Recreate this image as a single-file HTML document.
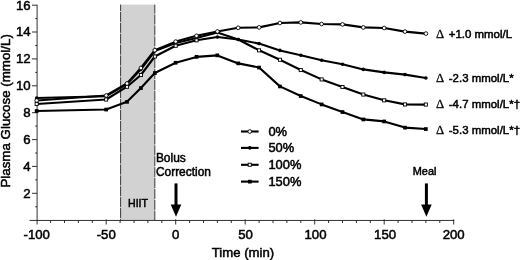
<!DOCTYPE html>
<html><head><meta charset="utf-8"><title>Plasma Glucose</title>
<style>
html,body{margin:0;padding:0;background:#fff;}
body{width:520px;height:260px;overflow:hidden;}
svg{display:block;}
text{font-family:"Liberation Sans",sans-serif;fill:#000;stroke:#000;stroke-width:0.5px;}
.tk{font-size:13.2px;}
.an{font-size:11.2px;}
.lg{font-size:12.9px;}
</style></head><body>
<svg width="520" height="260" viewBox="0 0 520 260">
<rect x="0" y="0" width="520" height="260" fill="#fff"/>

<rect x="120.5" y="4.6" width="34.3" height="215.4" fill="#d2d2d2"/>
<line x1="120.6" y1="4.6" x2="120.6" y2="220" stroke="#3a3a3a" stroke-width="1" stroke-dasharray="10 0.9" stroke-dashoffset="3.6"/>
<line x1="154.8" y1="4.6" x2="154.8" y2="220" stroke="#3a3a3a" stroke-width="1" stroke-dasharray="10 0.9" stroke-dashoffset="1"/>
<g stroke="#262626" stroke-width="0.95" fill="none">
<line x1="29.6" y1="220.45" x2="454.2" y2="220.45"/>
<line x1="37.1" y1="4.7" x2="37.1" y2="224.5"/>
<line x1="35.2" y1="206.8" x2="37.1" y2="206.8"/>
<line x1="32" y1="193.3" x2="37.1" y2="193.3"/>
<line x1="35.2" y1="179.9" x2="37.1" y2="179.9"/>
<line x1="32" y1="166.4" x2="37.1" y2="166.4"/>
<line x1="35.2" y1="153.0" x2="37.1" y2="153.0"/>
<line x1="32" y1="139.6" x2="37.1" y2="139.6"/>
<line x1="35.2" y1="126.1" x2="37.1" y2="126.1"/>
<line x1="32" y1="112.7" x2="37.1" y2="112.7"/>
<line x1="35.2" y1="99.2" x2="37.1" y2="99.2"/>
<line x1="32" y1="85.8" x2="37.1" y2="85.8"/>
<line x1="35.2" y1="72.4" x2="37.1" y2="72.4"/>
<line x1="32" y1="58.9" x2="37.1" y2="58.9"/>
<line x1="35.2" y1="45.5" x2="37.1" y2="45.5"/>
<line x1="32" y1="32.0" x2="37.1" y2="32.0"/>
<line x1="35.2" y1="18.6" x2="37.1" y2="18.6"/>
<line x1="32" y1="5.2" x2="37.1" y2="5.2"/>
<line x1="50.6" y1="220.2" x2="50.6" y2="223"/>
<line x1="64.5" y1="220.2" x2="64.5" y2="223"/>
<line x1="78.4" y1="220.2" x2="78.4" y2="223"/>
<line x1="92.3" y1="220.2" x2="92.3" y2="223"/>
<line x1="106.2" y1="219.39999999999998" x2="106.2" y2="224.5"/>
<line x1="120.1" y1="220.2" x2="120.1" y2="223"/>
<line x1="134.0" y1="220.2" x2="134.0" y2="223"/>
<line x1="147.9" y1="220.2" x2="147.9" y2="223"/>
<line x1="161.8" y1="220.2" x2="161.8" y2="223"/>
<line x1="175.7" y1="219.39999999999998" x2="175.7" y2="224.5"/>
<line x1="189.6" y1="220.2" x2="189.6" y2="223"/>
<line x1="203.5" y1="220.2" x2="203.5" y2="223"/>
<line x1="217.4" y1="220.2" x2="217.4" y2="223"/>
<line x1="231.3" y1="220.2" x2="231.3" y2="223"/>
<line x1="245.2" y1="219.39999999999998" x2="245.2" y2="224.5"/>
<line x1="259.1" y1="220.2" x2="259.1" y2="223"/>
<line x1="273.0" y1="220.2" x2="273.0" y2="223"/>
<line x1="286.9" y1="220.2" x2="286.9" y2="223"/>
<line x1="300.8" y1="220.2" x2="300.8" y2="223"/>
<line x1="314.7" y1="219.39999999999998" x2="314.7" y2="224.5"/>
<line x1="328.6" y1="220.2" x2="328.6" y2="223"/>
<line x1="342.5" y1="220.2" x2="342.5" y2="223"/>
<line x1="356.4" y1="220.2" x2="356.4" y2="223"/>
<line x1="370.3" y1="220.2" x2="370.3" y2="223"/>
<line x1="384.2" y1="219.39999999999998" x2="384.2" y2="224.5"/>
<line x1="398.1" y1="220.2" x2="398.1" y2="223"/>
<line x1="412.0" y1="220.2" x2="412.0" y2="223"/>
<line x1="425.9" y1="220.2" x2="425.9" y2="223"/>
<line x1="439.8" y1="220.2" x2="439.8" y2="223"/>
<line x1="453.7" y1="219.39999999999998" x2="453.7" y2="224.5"/>
</g>
<text class="tk" x="30.6" y="197.7" text-anchor="end">2</text>
<text class="tk" x="30.6" y="170.8" text-anchor="end">4</text>
<text class="tk" x="30.6" y="144.0" text-anchor="end">6</text>
<text class="tk" x="30.6" y="117.1" text-anchor="end">8</text>
<text class="tk" x="30.6" y="90.2" text-anchor="end">10</text>
<text class="tk" x="30.6" y="63.3" text-anchor="end">12</text>
<text class="tk" x="30.6" y="36.4" text-anchor="end">14</text>
<text class="tk" x="30.6" y="9.6" text-anchor="end">16</text>
<text class="tk" x="36.7" y="238.9" text-anchor="middle">-100</text>
<text class="tk" x="106.2" y="238.9" text-anchor="middle">-50</text>
<text class="tk" x="175.7" y="238.9" text-anchor="middle">0</text>
<text class="tk" x="245.6" y="238.9" text-anchor="middle">50</text>
<text class="tk" x="315.5" y="238.9" text-anchor="middle">100</text>
<text class="tk" x="385.1" y="238.9" text-anchor="middle">150</text>
<text class="tk" x="453.7" y="238.9" text-anchor="middle">200</text>
<text class="tk" x="211.8" y="257" style="font-size:13.15px">Time (min)</text>
<text class="tk" transform="translate(10,187.6) rotate(-90)" style="font-size:13.35px">Plasma Glucose (mmol/L)</text>
<polyline points="36.7,111.0 106.2,109.5 127.0,101.8 140.9,88.0 154.8,73.0 175.7,62.8 196.5,56.9 217.4,55.4 238.2,63.4 259.1,67.5 279.9,86.4 300.8,96.0 321.6,104.4 342.5,112.0 363.3,119.4 384.2,121.4 405.0,127.6 425.9,129.0" fill="none" stroke="#000" stroke-width="2.1" stroke-linejoin="round"/>
<rect x="34.8" y="109.2" width="3.7" height="3.7" fill="#000"/>
<rect x="104.3" y="107.7" width="3.7" height="3.7" fill="#000"/>
<rect x="125.2" y="100.0" width="3.7" height="3.7" fill="#000"/>
<rect x="139.1" y="86.2" width="3.7" height="3.7" fill="#000"/>
<rect x="153.0" y="71.2" width="3.7" height="3.7" fill="#000"/>
<rect x="173.8" y="60.9" width="3.7" height="3.7" fill="#000"/>
<rect x="194.7" y="55.0" width="3.7" height="3.7" fill="#000"/>
<rect x="215.5" y="53.5" width="3.7" height="3.7" fill="#000"/>
<rect x="236.4" y="61.5" width="3.7" height="3.7" fill="#000"/>
<rect x="257.2" y="65.7" width="3.7" height="3.7" fill="#000"/>
<rect x="278.1" y="84.6" width="3.7" height="3.7" fill="#000"/>
<rect x="298.9" y="94.2" width="3.7" height="3.7" fill="#000"/>
<rect x="319.8" y="102.6" width="3.7" height="3.7" fill="#000"/>
<rect x="340.6" y="110.2" width="3.7" height="3.7" fill="#000"/>
<rect x="361.5" y="117.6" width="3.7" height="3.7" fill="#000"/>
<rect x="382.3" y="119.6" width="3.7" height="3.7" fill="#000"/>
<rect x="403.2" y="125.8" width="3.7" height="3.7" fill="#000"/>
<rect x="424.0" y="127.2" width="3.7" height="3.7" fill="#000"/>
<polyline points="36.7,98.0 106.2,96.2 127.0,84.0 140.9,69.3 154.8,51.0 175.7,43.1 196.5,38.0 217.4,32.6 238.2,39.5 259.1,43.6 279.9,50.4 300.8,55.2 321.6,60.2 342.5,64.2 363.3,69.4 384.2,72.4 405.0,74.6 425.9,78.0" fill="none" stroke="#000" stroke-width="2.1" stroke-linejoin="round"/>
<circle cx="36.7" cy="98.0" r="1.8" fill="#000"/>
<circle cx="106.2" cy="96.2" r="1.8" fill="#000"/>
<circle cx="127.0" cy="84.0" r="1.8" fill="#000"/>
<circle cx="140.9" cy="69.3" r="1.8" fill="#000"/>
<circle cx="154.8" cy="51.0" r="1.8" fill="#000"/>
<circle cx="175.7" cy="43.1" r="1.8" fill="#000"/>
<circle cx="196.5" cy="38.0" r="1.8" fill="#000"/>
<circle cx="217.4" cy="32.6" r="1.8" fill="#000"/>
<circle cx="238.2" cy="39.5" r="1.8" fill="#000"/>
<circle cx="259.1" cy="43.6" r="1.8" fill="#000"/>
<circle cx="279.9" cy="50.4" r="1.8" fill="#000"/>
<circle cx="300.8" cy="55.2" r="1.8" fill="#000"/>
<circle cx="321.6" cy="60.2" r="1.8" fill="#000"/>
<circle cx="342.5" cy="64.2" r="1.8" fill="#000"/>
<circle cx="363.3" cy="69.4" r="1.8" fill="#000"/>
<circle cx="384.2" cy="72.4" r="1.8" fill="#000"/>
<circle cx="405.0" cy="74.6" r="1.8" fill="#000"/>
<circle cx="425.9" cy="78.0" r="1.8" fill="#000"/>
<polyline points="36.7,104.0 106.2,99.5 127.0,86.7 140.9,75.0 154.8,56.5 175.7,45.8 196.5,40.3 217.4,37.0 238.2,39.5 259.1,50.3 279.9,59.8 300.8,70.0 321.6,79.4 342.5,87.0 363.3,94.5 384.2,100.3 405.0,104.4 425.9,104.6" fill="none" stroke="#000" stroke-width="2.1" stroke-linejoin="round"/>
<rect x="35.1" y="102.5" width="3.1" height="3.1" fill="#fff" stroke="#000" stroke-width="0.9"/>
<rect x="104.6" y="98.0" width="3.1" height="3.1" fill="#fff" stroke="#000" stroke-width="0.9"/>
<rect x="125.5" y="85.2" width="3.1" height="3.1" fill="#fff" stroke="#000" stroke-width="0.9"/>
<rect x="139.4" y="73.5" width="3.1" height="3.1" fill="#fff" stroke="#000" stroke-width="0.9"/>
<rect x="153.3" y="55.0" width="3.1" height="3.1" fill="#fff" stroke="#000" stroke-width="0.9"/>
<rect x="174.1" y="44.2" width="3.1" height="3.1" fill="#fff" stroke="#000" stroke-width="0.9"/>
<rect x="195.0" y="38.8" width="3.1" height="3.1" fill="#fff" stroke="#000" stroke-width="0.9"/>
<circle cx="217.4" cy="37.0" r="1.8" fill="#000"/>
<circle cx="238.2" cy="39.5" r="1.8" fill="#000"/>
<rect x="257.5" y="48.8" width="3.1" height="3.1" fill="#fff" stroke="#000" stroke-width="0.9"/>
<rect x="278.4" y="58.2" width="3.1" height="3.1" fill="#fff" stroke="#000" stroke-width="0.9"/>
<rect x="299.2" y="68.5" width="3.1" height="3.1" fill="#fff" stroke="#000" stroke-width="0.9"/>
<rect x="320.1" y="77.9" width="3.1" height="3.1" fill="#fff" stroke="#000" stroke-width="0.9"/>
<rect x="340.9" y="85.5" width="3.1" height="3.1" fill="#fff" stroke="#000" stroke-width="0.9"/>
<rect x="361.8" y="93.0" width="3.1" height="3.1" fill="#fff" stroke="#000" stroke-width="0.9"/>
<rect x="382.6" y="98.8" width="3.1" height="3.1" fill="#fff" stroke="#000" stroke-width="0.9"/>
<rect x="403.5" y="102.9" width="3.1" height="3.1" fill="#fff" stroke="#000" stroke-width="0.9"/>
<rect x="424.3" y="103.0" width="3.1" height="3.1" fill="#fff" stroke="#000" stroke-width="0.9"/>
<polyline points="36.7,100.5 106.2,95.5 127.0,83.5 140.9,68.0 154.8,50.2 175.7,41.6 196.5,35.8 217.4,31.5 238.2,27.8 259.1,27.4 279.9,23.0 300.8,22.4 321.6,24.0 342.5,24.4 363.3,27.4 384.2,28.0 405.0,31.6 425.9,33.6" fill="none" stroke="#000" stroke-width="2.1" stroke-linejoin="round"/>
<circle cx="36.7" cy="100.5" r="1.85" fill="#fff" stroke="#000" stroke-width="0.9"/>
<circle cx="106.2" cy="95.5" r="1.85" fill="#fff" stroke="#000" stroke-width="0.9"/>
<circle cx="127.0" cy="83.5" r="1.85" fill="#fff" stroke="#000" stroke-width="0.9"/>
<circle cx="140.9" cy="68.0" r="1.85" fill="#fff" stroke="#000" stroke-width="0.9"/>
<circle cx="154.8" cy="50.2" r="1.85" fill="#fff" stroke="#000" stroke-width="0.9"/>
<circle cx="175.7" cy="41.6" r="1.85" fill="#fff" stroke="#000" stroke-width="0.9"/>
<circle cx="196.5" cy="35.8" r="1.85" fill="#fff" stroke="#000" stroke-width="0.9"/>
<circle cx="217.4" cy="31.5" r="1.85" fill="#fff" stroke="#000" stroke-width="0.9"/>
<circle cx="238.2" cy="27.8" r="1.85" fill="#fff" stroke="#000" stroke-width="0.9"/>
<circle cx="259.1" cy="27.4" r="1.85" fill="#fff" stroke="#000" stroke-width="0.9"/>
<circle cx="279.9" cy="23.0" r="1.85" fill="#fff" stroke="#000" stroke-width="0.9"/>
<circle cx="300.8" cy="22.4" r="1.85" fill="#fff" stroke="#000" stroke-width="0.9"/>
<circle cx="321.6" cy="24.0" r="1.85" fill="#fff" stroke="#000" stroke-width="0.9"/>
<circle cx="342.5" cy="24.4" r="1.85" fill="#fff" stroke="#000" stroke-width="0.9"/>
<circle cx="363.3" cy="27.4" r="1.85" fill="#fff" stroke="#000" stroke-width="0.9"/>
<circle cx="384.2" cy="28.0" r="1.85" fill="#fff" stroke="#000" stroke-width="0.9"/>
<circle cx="405.0" cy="31.6" r="1.85" fill="#fff" stroke="#000" stroke-width="0.9"/>
<circle cx="425.9" cy="33.6" r="1.85" fill="#fff" stroke="#000" stroke-width="0.9"/>
<text class="an" x="435.9" y="37.8" style="font-family:'Liberation Serif',serif;font-size:12.6px;stroke-width:0.3px">Δ</text>
<text class="an" x="448.8" y="37.7" style="font-size:11.45px">+1.0 mmol/L</text>
<text class="an" x="435.9" y="82.0" style="font-family:'Liberation Serif',serif;font-size:12.6px;stroke-width:0.3px">Δ</text>
<text class="an" x="448.8" y="81.9" style="font-size:11.45px">-2.3 mmol/L*</text>
<text class="an" x="435.9" y="108.4" style="font-family:'Liberation Serif',serif;font-size:12.6px;stroke-width:0.3px">Δ</text>
<text class="an" x="448.8" y="108.3" style="font-size:11.45px">-4.7 mmol/L*†</text>
<text class="an" x="435.9" y="133.8" style="font-family:'Liberation Serif',serif;font-size:12.6px;stroke-width:0.3px">Δ</text>
<text class="an" x="448.8" y="133.7" style="font-size:11.45px">-5.3 mmol/L*†</text>
<line x1="241" y1="131.5" x2="258.6" y2="131.5" stroke="#000" stroke-width="2.1"/>
<circle cx="249.8" cy="131.5" r="1.85" fill="#fff" stroke="#000" stroke-width="0.9"/>
<text class="lg" x="268.4" y="135.8">0%</text>
<line x1="241" y1="147.9" x2="258.6" y2="147.9" stroke="#000" stroke-width="2.1"/>
<circle cx="249.8" cy="147.9" r="1.8" fill="#000"/>
<text class="lg" x="268.4" y="152.2">50%</text>
<line x1="241" y1="164.8" x2="258.6" y2="164.8" stroke="#000" stroke-width="2.1"/>
<rect x="248.2" y="163.2" width="3.1" height="3.1" fill="#fff" stroke="#000" stroke-width="0.9"/>
<text class="lg" x="268.4" y="169.1">100%</text>
<line x1="241" y1="181.6" x2="258.6" y2="181.6" stroke="#000" stroke-width="2.1"/>
<rect x="248.0" y="179.8" width="3.7" height="3.7" fill="#000"/>
<text class="lg" x="268.4" y="185.9">150%</text>
<text class="an" x="128" y="207.4" style="font-size:10.6px">HIIT</text>
<text class="an" x="155.9" y="162.1" style="font-size:11.95px">Bolus</text>
<text class="an" x="155.9" y="176.3" style="font-size:11.95px">Correction</text>
<text class="an" x="412.8" y="175.3" style="font-size:10.9px">Meal</text>
<line x1="176" y1="183.4" x2="176" y2="206" stroke="#000" stroke-width="3"/>
<polygon points="170.7,204.5 181.3,204.5 176,216.8" fill="#000"/>
<line x1="426.4" y1="183.4" x2="426.4" y2="206" stroke="#000" stroke-width="3"/>
<polygon points="421.09999999999997,204.5 431.7,204.5 426.4,216.8" fill="#000"/>
</svg></body></html>
